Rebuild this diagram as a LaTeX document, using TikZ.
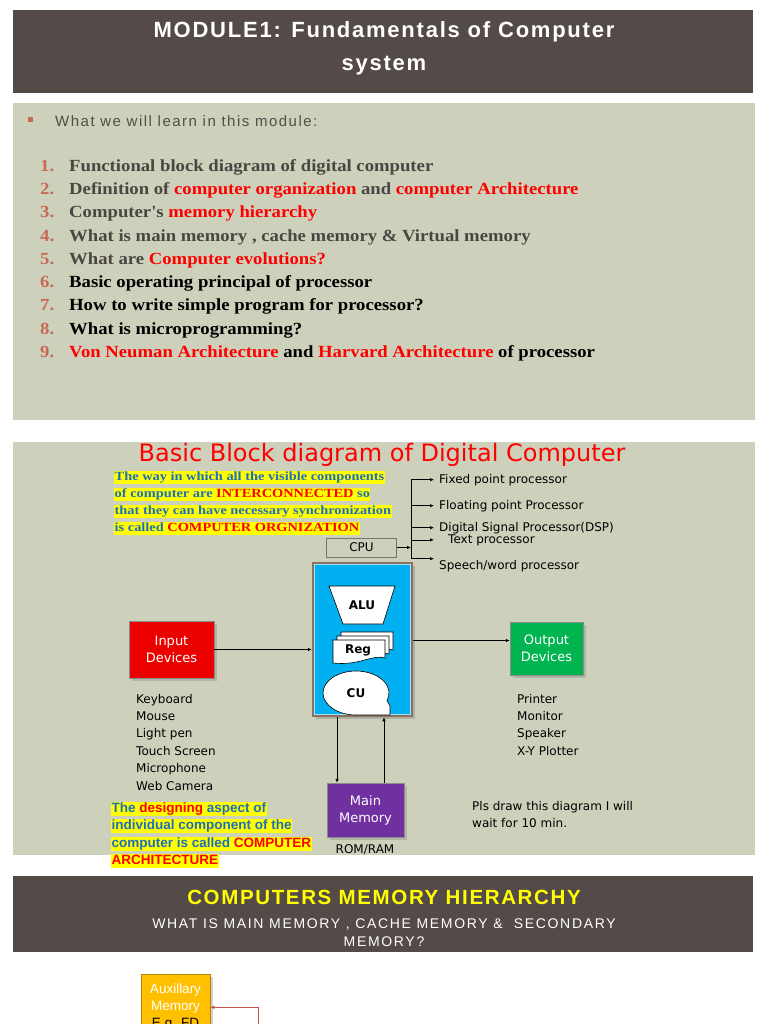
\documentclass[tikz,border=0pt]{standalone}
\usepackage{fontspec}
\setmainfont{Liberation Serif}
\setsansfont{DejaVu Sans}
\newfontfamily\bannerfont[LetterSpace=8]{Liberation Sans}
\newfontfamily\subbannerfont[LetterSpace=12]{Liberation Sans}
\newfontfamily\leadfont[LetterSpace=10]{Liberation Sans}
\newfontfamily\listfont[FakeStretch=1.1]{Liberation Serif}
\newfontfamily\orgfont[FakeStretch=1.15]{Liberation Serif}
\newfontfamily\archfont{Liberation Sans}
\usetikzlibrary{arrows.meta,positioning,shadows}

\definecolor{bannerbrown}{RGB}{84,75,72}
\definecolor{panelgreen}{RGB}{205,209,187}
\definecolor{numred}{RGB}{200,105,85}
\definecolor{leadgray}{RGB}{80,78,75}
\definecolor{txtgray}{RGB}{74,70,66}
\definecolor{hired}{RGB}{255,0,0}
\definecolor{orgblue}{RGB}{30,110,190}
\definecolor{hilite}{RGB}{255,255,0}
\definecolor{cpublue}{RGB}{0,176,240}
\definecolor{cpuframe}{RGB}{140,112,96}
\definecolor{inred}{RGB}{235,0,0}
\definecolor{outgreen}{RGB}{0,180,80}
\definecolor{mempurple}{RGB}{112,48,160}
\definecolor{auxgold}{RGB}{255,192,0}
\definecolor{linkred}{RGB}{200,80,70}

\newcommand{\redtxt}[1]{\textcolor{hired}{#1}}

\begin{document}
\begin{tikzpicture}[x=1pt, y=-1pt,
    bannertxt/.style={anchor=base, inner sep=0pt, text=white, font=\bannerfont\bfseries\fontsize{22}{26}\selectfont},
    lead/.style={anchor=base west, inner sep=0pt, text=leadgray, font=\leadfont\fontsize{15}{18}\selectfont},
    num/.style={anchor=base west, inner sep=0pt, text=numred, font=\listfont\bfseries\fontsize{17}{20}\selectfont},
    li/.style={num, text=txtgray},
    lib/.style={num, text=black},
    org/.style={anchor=base west, inner xsep=0.5pt, inner ysep=0pt, text height=9pt, text depth=3.5pt, fill=hilite, text=orgblue, font=\orgfont\bfseries\fontsize{12.5}{14}\selectfont},
    arch/.style={anchor=base west, inner xsep=0.5pt, inner ysep=0pt, text height=10.5pt, text depth=4pt, fill=hilite, text=orgblue, font=\archfont\bfseries\fontsize{13.5}{16}\selectfont},
    tag/.style={anchor=base west, inner sep=0pt, font=\sffamily\fontsize{12}{14}\selectfont},
    arr/.style={-{Latex[length=4pt,width=3.5pt]}, line width=0.7pt},
    wire/.style={line width=0.7pt},
    unit/.style={draw=black!45, line width=0.5pt, text=white, align=center, font=\sffamily\fontsize{13}{17}\selectfont, drop shadow={shadow xshift=2.5pt, shadow yshift=-2.5pt, opacity=0.35}},
    part/.style={draw=black, line width=0.6pt, fill=white},
    parttxt/.style={inner sep=0pt, font=\sffamily\bfseries\fontsize{12}{14}\selectfont}]
    \path[use as bounding box, clip] (0,0) rectangle (768,1024);
    \fill[white] (0,0) rectangle (768,1024);

    % Module banner
    \fill[bannerbrown] (13,10) rectangle (753,93);
    \node[bannertxt] (title1) at (384,38) {MODULE1: Fundamentals of Computer};
    \node[bannertxt] (title2) at (384,71) {system};

    % What we will learn
    \fill[panelgreen] (13,103) rectangle (755,420);
    \fill[numred] (27.5,117.5) rectangle (32.5,122.5);
    \node[lead] (lead) at (55,127) {What we will learn in this module:};
    \foreach \i/\y in {1/172,2/195,3/218,4/241,5/264,6/287,7/310,8/334,9/357}
        \node[num] (n\i) at (40,\y) {\i.};
    \node[li] (item1) at (69,172) {Functional block diagram of digital computer};
    \node[li] (item2) at (69,195) {Definition of \redtxt{computer organization} and \redtxt{computer Architecture}};
    \node[li] (item3) at (69,218) {Computer's \redtxt{memory hierarchy}};
    \node[li] (item4) at (69,241) {What is main memory , cache memory \& Virtual memory};
    \node[li] (item5) at (69,264) {What are \redtxt{Computer evolutions?}};
    \node[lib] (item6) at (69,287) {Basic operating principal of processor};
    \node[lib] (item7) at (69,310) {How to write simple program for processor?};
    \node[lib] (item8) at (69,334) {What is microprogramming?};
    \node[lib] (item9) at (69,357) {\redtxt{Von Neuman Architecture} and \redtxt{Harvard Architecture} of processor};

    % Block diagram panel
    \fill[panelgreen] (13,442) rectangle (755,855);
    \node[anchor=base, inner sep=0pt, text=hired, font=\sffamily\fontsize{24}{28}\selectfont] (blocktitle) at (382,461) {Basic Block diagram of Digital Computer};
    \node[org] (org1) at (114,480) {The way in which all the visible components};
    \node[org] (org2) at (114,497) {of computer are \redtxt{INTERCONNECTED} so};
    \node[org] (org3) at (114,514) {that they can have necessary synchronization};
    \node[org] (org4) at (114,531) {is called \redtxt{COMPUTER ORGNIZATION}};

    % CPU label and processor kinds
    \node[draw=black!55, line width=0.7pt, fill=panelgreen, minimum width=70pt, minimum height=19pt, inner sep=0pt, font=\sffamily\fontsize{12}{14}\selectfont] (cpulab) at (361.5,547.5) {CPU};
    \coordinate (bus) at (411,547.5);
    \node[tag] (fixp) at (439,483) {Fixed point processor};
    \node[tag] (flop) at (439,509) {Floating point Processor};
    \node[tag] (dsp) at (439,531) {Digital Signal Processor(DSP)};
    \node[tag] (textp) at (448,543) {Text processor};
    \node[tag] (speech) at (439,569) {Speech/word processor};
    \coordinate (speecharr) at ([yshift=7pt]speech.west);
    \draw[arr] (cpulab) -- (bus);
    \draw[wire] (bus |- fixp.west) -- (bus |- speecharr);
    \draw[arr] (bus |- fixp.west) -- ([xshift=-5pt]fixp.west);
    \draw[arr] (bus |- flop.west) -- ([xshift=-5pt]flop.west);
    \draw[arr] (bus |- dsp.west) -- ([xshift=-5pt]dsp.west);
    \draw[arr] (bus |- textp.west) -- ([xshift=-14pt]textp.west);
    \draw[arr] (bus |- speecharr) -- ([xshift=-5pt]speecharr);

    % Processor block
    \node[draw=cpuframe, line width=3pt, fill=cpublue, minimum width=98.5pt, minimum height=152.5pt, drop shadow={shadow xshift=3pt, shadow yshift=-3pt, opacity=0.4}] (cpu) at (362.5,639.5) {};
    \draw[cyan!35!white, line width=1pt] ([shift={(3pt,-3pt)}]cpu.north west) rectangle ([shift={(-3pt,3pt)}]cpu.south east);
    \draw[part] (329,586) -- (395,586) -- (383,624) -- (343,624) -- cycle;
    \node[parttxt] (alu) at (362,605) {ALU};
    \draw[part] (341,632) -- (393,632) -- (393,650) .. controls (381,646) and (367,658) .. (341,655) -- cycle;
    \draw[part] (337,636) -- (389,636) -- (389,654) .. controls (377,650) and (363,662) .. (337,659) -- cycle;
    \draw[part] (333,640) -- (385,640) -- (385,658) .. controls (373,654) and (359,666) .. (333,663) -- cycle;
    \node[parttxt] (reg) at (358,650) {Reg};
    \draw[part] (356,715) arc[start angle=90, end angle=380, x radius=33, y radius=22] -- (390,706) -- (390,715) -- cycle;
    \node[parttxt] (cu) at (356,693) {CU};

    % Input, output and memory units
    \node[unit, fill=inred, minimum width=85pt, minimum height=57pt] (inp) at (171.5,649.5) {Input\\Devices};
    \node[unit, fill=outgreen, minimum width=73pt, minimum height=53pt] (outp) at (546.5,648.5) {Output\\Devices};
    \node[unit, fill=mempurple, minimum width=77pt, minimum height=54pt] (mem) at (365.5,810) {Main\\Memory};
    \node[tag, anchor=base] (romram) at (365,853) {ROM/RAM};
    \draw[arr] (inp) -- (inp -| cpu.west);
    \draw[arr] ([yshift=8pt]cpu.east |- outp.west) -- ([yshift=8pt]outp.west);
    \draw[arr] ([xshift=-25.5pt]cpu.south) -- ([xshift=-25.5pt]cpu.south |- mem.north);
    \draw[arr] ([xshift=21.5pt]cpu.south |- mem.north) -- ([xshift=21.5pt]cpu.south);

    % Device lists
    \foreach \dev [count=\i] in {Keyboard,Mouse,Light pen,Touch Screen,Microphone,Web Camera}
        \node[tag] (indev\i) at (136,{703+17.4*(\i-1)}) {\dev};
    \foreach \dev [count=\i] in {Printer,Monitor,Speaker,X-Y Plotter}
        \node[tag] (outdev\i) at (517,{703+17.4*(\i-1)}) {\dev};

    % Architecture note
    \node[arch] (arch1) at (111,812) {The \redtxt{designing} aspect of};
    \node[arch] (arch2) at (111,829) {individual component of the};
    \node[arch] (arch3) at (111,847) {computer is called \redtxt{COMPUTER}};
    \node[arch] (arch4) at (111,864) {\redtxt{ARCHITECTURE}};
    \node[tag] (note1) at (472,810) {Pls draw this diagram I will};
    \node[tag] (note2) at (472,827) {wait for 10 min.};

    % Memory hierarchy banner
    \fill[bannerbrown] (13,876) rectangle (753,952);
    \node[bannertxt, text=hilite, font=\bannerfont\bfseries\fontsize{20.5}{24}\selectfont] (hiertitle) at (384,904) {COMPUTERS MEMORY HIERARCHY};
    \node[bannertxt, font=\subbannerfont\fontsize{14}{17}\selectfont] (hiersub1) at (384,928) {WHAT IS MAIN MEMORY , CACHE MEMORY \&\ \ SECONDARY};
    \node[bannertxt, font=\subbannerfont\fontsize{14}{17}\selectfont] (hiersub2) at (384,946) {MEMORY?};

    % Auxiliary memory
    \node[unit, anchor=north, fill=auxgold, draw=auxgold!70!black, minimum width=69pt, minimum height=66pt, inner sep=0pt, font=\archfont\fontsize{13.5}{17}\selectfont] (aux) at (175.5,974) {Auxillary\\Memory\\\textcolor{black}{E.g. FD}};
    \coordinate (auxlink) at (258,1040);
    \draw[arr, draw=linkred] (auxlink) |- (aux.east);
\end{tikzpicture}
\end{document}
